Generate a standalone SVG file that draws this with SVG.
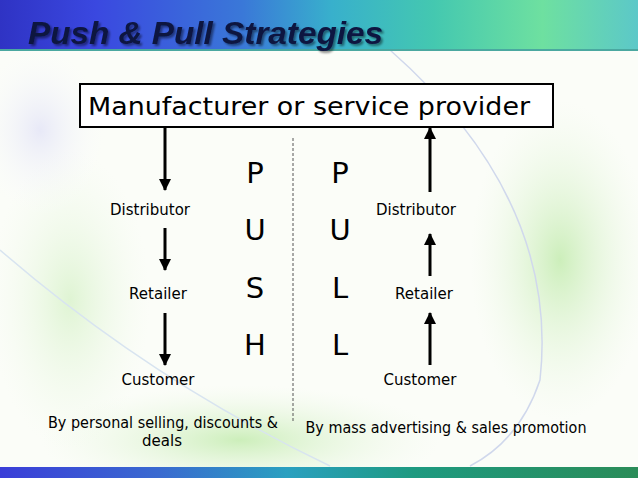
<svg xmlns="http://www.w3.org/2000/svg" width="638" height="478" viewBox="0 0 638 478">
<defs>
  <linearGradient id="hdr" x1="0" y1="0" x2="1" y2="0">
    <stop offset="0" stop-color="#2f33c4"/>
    <stop offset="0.15" stop-color="#3a48e0"/>
    <stop offset="0.38" stop-color="#3a78d8"/>
    <stop offset="0.52" stop-color="#38b0cc"/>
    <stop offset="0.68" stop-color="#44c8b0"/>
    <stop offset="0.85" stop-color="#6ee0a0"/>
    <stop offset="1" stop-color="#5cc8c8"/>
  </linearGradient>
  <linearGradient id="ftr" x1="0" y1="0" x2="1" y2="0">
    <stop offset="0" stop-color="#3a3ed8"/>
    <stop offset="0.25" stop-color="#3a6ad0"/>
    <stop offset="0.45" stop-color="#2aa0c0"/>
    <stop offset="0.65" stop-color="#1e9a80"/>
    <stop offset="1" stop-color="#2a8c58"/>
  </linearGradient>
  <radialGradient id="g1" cx="0.5" cy="0.5" r="0.5">
    <stop offset="0" stop-color="#b8e8a0" stop-opacity="0.7"/>
    <stop offset="1" stop-color="#e8f6e0" stop-opacity="0"/>
  </radialGradient>
  <radialGradient id="g2" cx="0.5" cy="0.5" r="0.5">
    <stop offset="0" stop-color="#d4d4f6" stop-opacity="0.5"/>
    <stop offset="1" stop-color="#ffffff" stop-opacity="0"/>
  </radialGradient>
  <filter id="sh" x="-5%" y="-20%" width="110%" height="150%">
    <feDropShadow dx="2" dy="2" stdDeviation="1.2" flood-color="#000" flood-opacity="0.45"/>
  </filter>
  <marker id="ah" viewBox="0 0 12 12" refX="11" refY="6" markerWidth="12" markerHeight="12" markerUnits="userSpaceOnUse" orient="auto">
    <path d="M0,0 L12,6 L0,12 Z" fill="#000"/>
  </marker>
  <style>
    .t{font-family:"DejaVu Sans","Open Sans",sans-serif;fill:#000}
    .lbl{font-size:15px}
    .big{font-size:29px}
    .sub{font-size:15px}
    .arr{stroke:#000;stroke-width:3;fill:none;marker-end:url(#ah)}
    .ttl{font-family:"Liberation Sans",Arial,sans-serif;font-size:31px;font-weight:bold;font-style:italic}
  </style>
</defs>
<rect x="0" y="0" width="638" height="478" fill="#fbfdf8"/>
<ellipse cx="560" cy="260" rx="90" ry="160" fill="url(#g1)"/>
<ellipse cx="240" cy="440" rx="200" ry="55" fill="url(#g1)"/>
<ellipse cx="70" cy="300" rx="80" ry="150" fill="url(#g1)" opacity="0.6"/>
<ellipse cx="40" cy="130" rx="70" ry="90" fill="url(#g2)"/>
<path d="M0,250 Q150,380 330,466" stroke="#d8e4f0" stroke-width="1.5" fill="none"/>
<path d="M390,50 Q560,200 540,380 Q520,440 470,466" stroke="#d0d8ec" stroke-width="1.5" fill="none"/>
<rect x="0" y="0" width="638" height="50" fill="url(#hdr)"/>
<rect x="0" y="49" width="638" height="2" fill="#4aa8a0"/>
<rect x="0" y="467" width="638" height="11" fill="url(#ftr)"/>
<text class="ttl" x="28" y="44" fill="#0c1440" filter="url(#sh)" textLength="355" lengthAdjust="spacingAndGlyphs">Push &amp; Pull Strategies</text>

<g id="manufacturer">
  <rect x="80" y="84" width="473" height="43" fill="#fff" stroke="#000" stroke-width="2"/>
  <text class="t" x="88" y="115" font-size="25" textLength="442" lengthAdjust="spacingAndGlyphs">Manufacturer or service provider</text>
</g>
<g id="push-distributor"><text class="t lbl" x="150" y="215" text-anchor="middle">Distributor</text></g>
<g id="push-retailer"><text class="t lbl" x="158" y="299" text-anchor="middle">Retailer</text></g>
<g id="push-customer"><text class="t lbl" x="158" y="385" text-anchor="middle">Customer</text></g>
<g id="pull-distributor"><text class="t lbl" x="416" y="215" text-anchor="middle">Distributor</text></g>
<g id="pull-retailer"><text class="t lbl" x="424" y="299" text-anchor="middle">Retailer</text></g>
<g id="pull-customer"><text class="t lbl" x="420" y="385" text-anchor="middle">Customer</text></g>
<g id="push-word">
  <text class="t big" x="255" y="183" text-anchor="middle">P</text>
  <text class="t big" x="255" y="240" text-anchor="middle">U</text>
  <text class="t big" x="255" y="298" text-anchor="middle">S</text>
  <text class="t big" x="255" y="355" text-anchor="middle">H</text>
</g>
<g id="pull-word">
  <text class="t big" x="340" y="183" text-anchor="middle">P</text>
  <text class="t big" x="340" y="240" text-anchor="middle">U</text>
  <text class="t big" x="340" y="298" text-anchor="middle">L</text>
  <text class="t big" x="340" y="355" text-anchor="middle">L</text>
</g>
<g id="push-note">
  <text class="t sub" x="163" y="428" text-anchor="middle" textLength="230" lengthAdjust="spacingAndGlyphs">By personal selling, discounts &amp;</text>
  <text class="t sub" x="162" y="446" text-anchor="middle">deals</text>
</g>
<g id="pull-note">
  <text class="t sub" x="446" y="433" text-anchor="middle" textLength="281" lengthAdjust="spacingAndGlyphs">By mass advertising &amp; sales promotion</text>
</g>
<g id="connectors">
  <line x1="293" y1="138" x2="293" y2="422" stroke="#555" stroke-width="1" stroke-dasharray="3,2"/>
  <line class="arr" x1="165" y1="127" x2="165" y2="190"/>
  <line class="arr" x1="165" y1="228" x2="165" y2="270"/>
  <line class="arr" x1="165" y1="313" x2="165" y2="365"/>
  <line class="arr" x1="430" y1="192" x2="430" y2="128"/>
  <line class="arr" x1="430" y1="276" x2="430" y2="234"/>
  <line class="arr" x1="430" y1="365" x2="430" y2="313"/>
</g>
</svg>
